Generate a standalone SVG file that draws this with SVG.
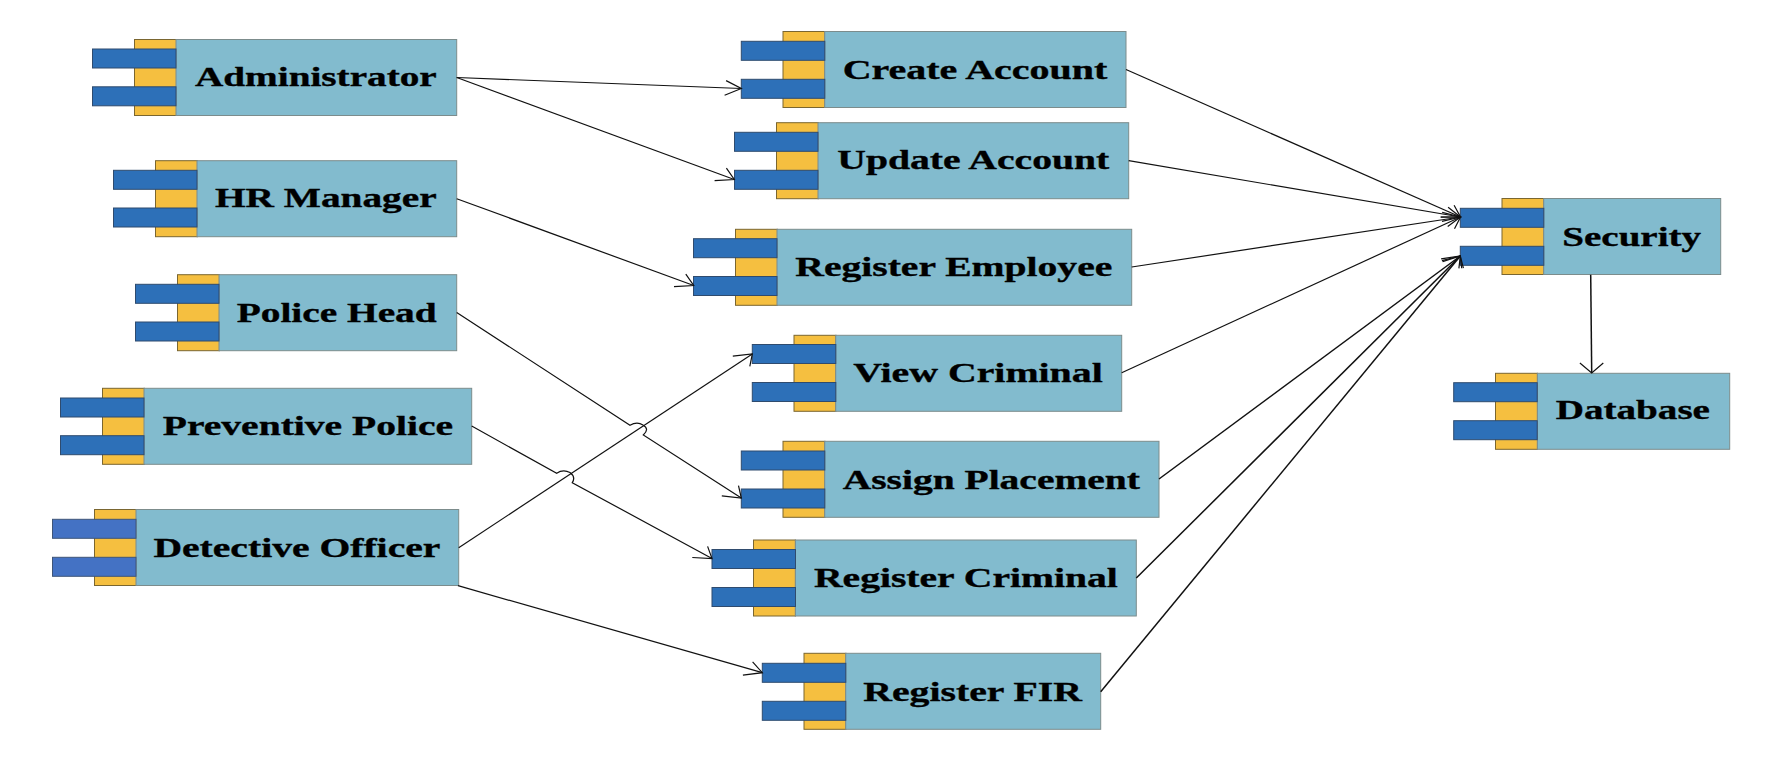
<svg xmlns="http://www.w3.org/2000/svg" width="1778" height="758" viewBox="0 0 1778 758">
<style>
.y{fill:#F5BF40;stroke:#7A6630;stroke-width:1}
.b{fill:#82BBCE;stroke:#7C8C8C;stroke-width:1}
.p{fill:#2D70B8;stroke:#2F4B6E;stroke-width:1}
.q{fill:#4472C4;stroke:#3F5578;stroke-width:1}
text{font-family:"Liberation Serif","Times New Roman",serif;font-weight:700;font-size:27.5px;fill:#000;stroke:#000;stroke-width:.35}
.c path{fill:none;stroke:#111;stroke-width:1.2}
.c path.t{stroke-width:1.5}
marker{overflow:visible}
marker path{fill:none;stroke:#111;stroke-width:1.2}
</style>
<defs>
<marker id="a1" markerUnits="userSpaceOnUse" markerWidth="48" markerHeight="48" viewBox="-24 -24 48 48" refX="0" refY="0" orient="0"><path d="M-16.7,6.7L0,0L-15.2,-7.9"/></marker>
<marker id="a2" markerUnits="userSpaceOnUse" markerWidth="48" markerHeight="48" viewBox="-24 -24 48 48" refX="0" refY="0" orient="0"><path d="M-19.7,1.2L0,0L-7.9,-11.4"/></marker>
<marker id="a4" markerUnits="userSpaceOnUse" markerWidth="48" markerHeight="48" viewBox="-24 -24 48 48" refX="0" refY="0" orient="0"><path d="M-19.5,-2.1L0,0L-2.8,-12.3"/></marker>
<marker id="a5" markerUnits="userSpaceOnUse" markerWidth="48" markerHeight="48" viewBox="-24 -24 48 48" refX="0" refY="0" orient="0"><path d="M-19.7,-1L0,0L-4.4,-12.1"/></marker>
<marker id="a6" markerUnits="userSpaceOnUse" markerWidth="48" markerHeight="48" viewBox="-24 -24 48 48" refX="0" refY="0" orient="0"><path d="M-2.5,12.3L0,0L-19.5,2.2"/></marker>
<marker id="a7" markerUnits="userSpaceOnUse" markerWidth="48" markerHeight="48" viewBox="-24 -24 48 48" refX="0" refY="0" orient="0"><path d="M-19.4,2.5L0,0L-9.7,-10.8"/></marker>
<marker id="a8" markerUnits="userSpaceOnUse" markerWidth="48" markerHeight="48" viewBox="-24 -24 48 48" refX="0" refY="0" orient="0"><path d="M-19.8,.2L0,0L-6.4,-11.7"/></marker>
<marker id="a9" markerUnits="userSpaceOnUse" markerWidth="48" markerHeight="48" viewBox="-24 -24 48 48" refX="0" refY="0" orient="0"><path d="M-18.5,4.4L0,0L-12.4,-9.7"/></marker>
<marker id="a10" markerUnits="userSpaceOnUse" markerWidth="48" markerHeight="48" viewBox="-24 -24 48 48" refX="0" refY="0" orient="0"><path d="M-12.8,9.5L0,0L-18.3,-4.7"/></marker>
<marker id="a11" markerUnits="userSpaceOnUse" markerWidth="48" markerHeight="48" viewBox="-24 -24 48 48" refX="0" refY="0" orient="0"><path d="M-6,11.8L0,0L-19.8,0"/></marker>
<marker id="a12" markerUnits="userSpaceOnUse" markerWidth="48" markerHeight="48" viewBox="-24 -24 48 48" refX="0" refY="0" orient="0"><path d="M-1.4,12.4L0,0L-19.2,2.9"/></marker>
<marker id="a13" markerUnits="userSpaceOnUse" markerWidth="48" markerHeight="48" viewBox="-24 -24 48 48" refX="0" refY="0" orient="0"><path d="M1.4,12.3L0,0L-18.4,4.6"/></marker>
<marker id="a14" markerUnits="userSpaceOnUse" markerWidth="48" markerHeight="48" viewBox="-24 -24 48 48" refX="0" refY="0" orient="0"><path d="M3.1,12.2L0,0L-17.7,5.6"/></marker>
<marker id="a15" markerUnits="userSpaceOnUse" markerWidth="48" markerHeight="48" viewBox="-24 -24 48 48" refX="0" refY="0" orient="0"><path d="M-11.8,-10L0,0L11.6,-10"/></marker>
</defs>
<rect width="1778" height="758" fill="#fff"/>
<g id="administrator"><rect class="y" x="134.5" y="39.5" width="42" height="76"/><rect class="b" x="176" y="39.5" width="280.7" height="76"/><rect class="p" x="92.5" y="49" width="83.5" height="19"/><rect class="p" x="92.5" y="86.8" width="83.5" height="19"/><text x="195" y="85.6" textLength="241.7" lengthAdjust="spacingAndGlyphs">Administrator</text></g>
<g id="hr-manager"><rect class="y" x="155.5" y="160.7" width="42" height="76"/><rect class="b" x="197" y="160.7" width="259.7" height="76"/><rect class="p" x="113.5" y="170.3" width="83.5" height="19"/><rect class="p" x="113.5" y="208" width="83.5" height="19"/><text x="215" y="207.3" textLength="221.7" lengthAdjust="spacingAndGlyphs">HR Manager</text></g>
<g id="police-head"><rect class="y" x="177.5" y="274.7" width="42" height="76"/><rect class="b" x="219" y="274.7" width="237.7" height="76"/><rect class="p" x="135.5" y="284.3" width="83.5" height="19"/><rect class="p" x="135.5" y="322" width="83.5" height="19"/><text x="236.7" y="321.6" textLength="200" lengthAdjust="spacingAndGlyphs">Police Head</text></g>
<g id="preventive-police"><rect class="y" x="102.5" y="388.3" width="42" height="76"/><rect class="b" x="144" y="388.3" width="327.7" height="76"/><rect class="p" x="60.5" y="398" width="83.5" height="19"/><rect class="p" x="60.5" y="435.7" width="83.5" height="19"/><text x="162.8" y="434.6" textLength="290.2" lengthAdjust="spacingAndGlyphs">Preventive Police</text></g>
<g id="detective-officer"><rect class="y" x="94.5" y="509.5" width="42" height="76"/><rect class="b" x="136" y="509.5" width="322.7" height="76"/><rect class="q" x="52.5" y="519.3" width="83.5" height="19"/><rect class="q" x="52.5" y="557.3" width="83.5" height="19"/><text x="153.4" y="556.6" textLength="287" lengthAdjust="spacingAndGlyphs">Detective Officer</text></g>
<g id="create-account"><rect class="y" x="783" y="31.5" width="42" height="76"/><rect class="b" x="824.7" y="31.5" width="301.3" height="76"/><rect class="p" x="741.3" y="41.3" width="83.5" height="19"/><rect class="p" x="741.3" y="79.3" width="83.5" height="19"/><text x="842.7" y="78.9" textLength="264.6" lengthAdjust="spacingAndGlyphs">Create Account</text></g>
<g id="update-account"><rect class="y" x="776.5" y="122.7" width="42" height="76"/><rect class="b" x="818" y="122.7" width="310.7" height="76"/><rect class="p" x="734.5" y="132.3" width="83.5" height="19"/><rect class="p" x="734.5" y="170.3" width="83.5" height="19"/><text x="837.3" y="169.3" textLength="272" lengthAdjust="spacingAndGlyphs">Update Account</text></g>
<g id="register-employee"><rect class="y" x="735.5" y="229.3" width="42" height="76"/><rect class="b" x="777" y="229.3" width="354.7" height="76"/><rect class="p" x="693.5" y="238.7" width="83.5" height="19"/><rect class="p" x="693.5" y="276.5" width="83.5" height="19"/><text x="795.3" y="275.6" textLength="317" lengthAdjust="spacingAndGlyphs">Register Employee</text></g>
<g id="view-criminal"><rect class="y" x="794" y="335.3" width="42" height="76"/><rect class="b" x="835.7" y="335.3" width="286" height="76"/><rect class="p" x="752.3" y="344.5" width="83.5" height="19"/><rect class="p" x="752.3" y="382.5" width="83.5" height="19"/><text x="853.3" y="381.6" textLength="249.4" lengthAdjust="spacingAndGlyphs">View Criminal</text></g>
<g id="assign-placement"><rect class="y" x="783" y="441.3" width="42" height="76"/><rect class="b" x="824.7" y="441.3" width="334.3" height="76"/><rect class="p" x="741.3" y="451" width="83.5" height="19"/><rect class="p" x="741.3" y="489" width="83.5" height="19"/><text x="842.7" y="488.6" textLength="297.3" lengthAdjust="spacingAndGlyphs">Assign Placement</text></g>
<g id="register-criminal"><rect class="y" x="753.5" y="540" width="42" height="76"/><rect class="b" x="795.3" y="540" width="341" height="76"/><rect class="p" x="712" y="549.5" width="83.5" height="19"/><rect class="p" x="712" y="587.5" width="83.5" height="19"/><text x="814" y="586.6" textLength="303.7" lengthAdjust="spacingAndGlyphs">Register Criminal</text></g>
<g id="register-fir"><rect class="y" x="804" y="653.3" width="42" height="76"/><rect class="b" x="845.7" y="653.3" width="255" height="76"/><rect class="p" x="762.3" y="663.3" width="83.5" height="19"/><rect class="p" x="762.3" y="701.3" width="83.5" height="19"/><text x="863.3" y="700.6" textLength="218.7" lengthAdjust="spacingAndGlyphs">Register FIR</text></g>
<g id="security"><rect class="y" x="1502" y="198.5" width="42" height="76"/><rect class="b" x="1543.7" y="198.5" width="177" height="76"/><rect class="p" x="1460.3" y="208.3" width="83.5" height="19"/><rect class="p" x="1460.3" y="246.3" width="83.5" height="19"/><text x="1562.3" y="245.6" textLength="138.7" lengthAdjust="spacingAndGlyphs">Security</text></g>
<g id="database"><rect class="y" x="1495.5" y="373.3" width="42" height="76"/><rect class="b" x="1537.3" y="373.3" width="192.4" height="76"/><rect class="p" x="1453.7" y="382.7" width="83.5" height="19"/><rect class="p" x="1453.7" y="420.7" width="83.5" height="19"/><text x="1555.7" y="419.3" textLength="154.3" lengthAdjust="spacingAndGlyphs">Database</text></g>
<g id="connectors" class="c">
<path marker-end="url(#a1)" d="M456.7,77.5L741.3,88.5"/>
<path marker-end="url(#a2)" d="M456.7,77.5L734.3,179.5"/>
<path marker-end="url(#a2)" d="M456.7,198.7L693.7,285.5"/>
<path marker-end="url(#a4)" d="M456.7,312.5L630,425.3Q637,421 643,425Q650,429 643.3,435L741.3,498"/>
<path marker-end="url(#a5)" d="M471.7,426L556.7,473.3Q563,469 570,472.5Q576,477 572.3,482.7L712,558.5"/>
<path marker-end="url(#a6)" d="M458.7,547.7L752.3,354"/>
<path marker-end="url(#a7)" d="M458,585.7L762.3,672.7"/>
<path marker-end="url(#a8)" d="M1126,69.5L1460.5,217"/>
<path marker-end="url(#a9)" d="M1128.7,160.7L1460.5,217"/>
<path marker-end="url(#a10)" d="M1131.7,267L1460.5,217"/>
<path marker-end="url(#a11)" d="M1121.7,372.7L1460.5,217"/>
<path class="t" marker-end="url(#a12)" d="M1159,479L1460.3,256"/>
<path class="t" marker-end="url(#a13)" d="M1136.3,578L1460.3,256"/>
<path class="t" marker-end="url(#a14)" d="M1100.7,691.7L1460.3,256"/>
<path class="t" marker-end="url(#a15)" d="M1590.7,274.7L1591.7,373"/>
</g>
</svg>
